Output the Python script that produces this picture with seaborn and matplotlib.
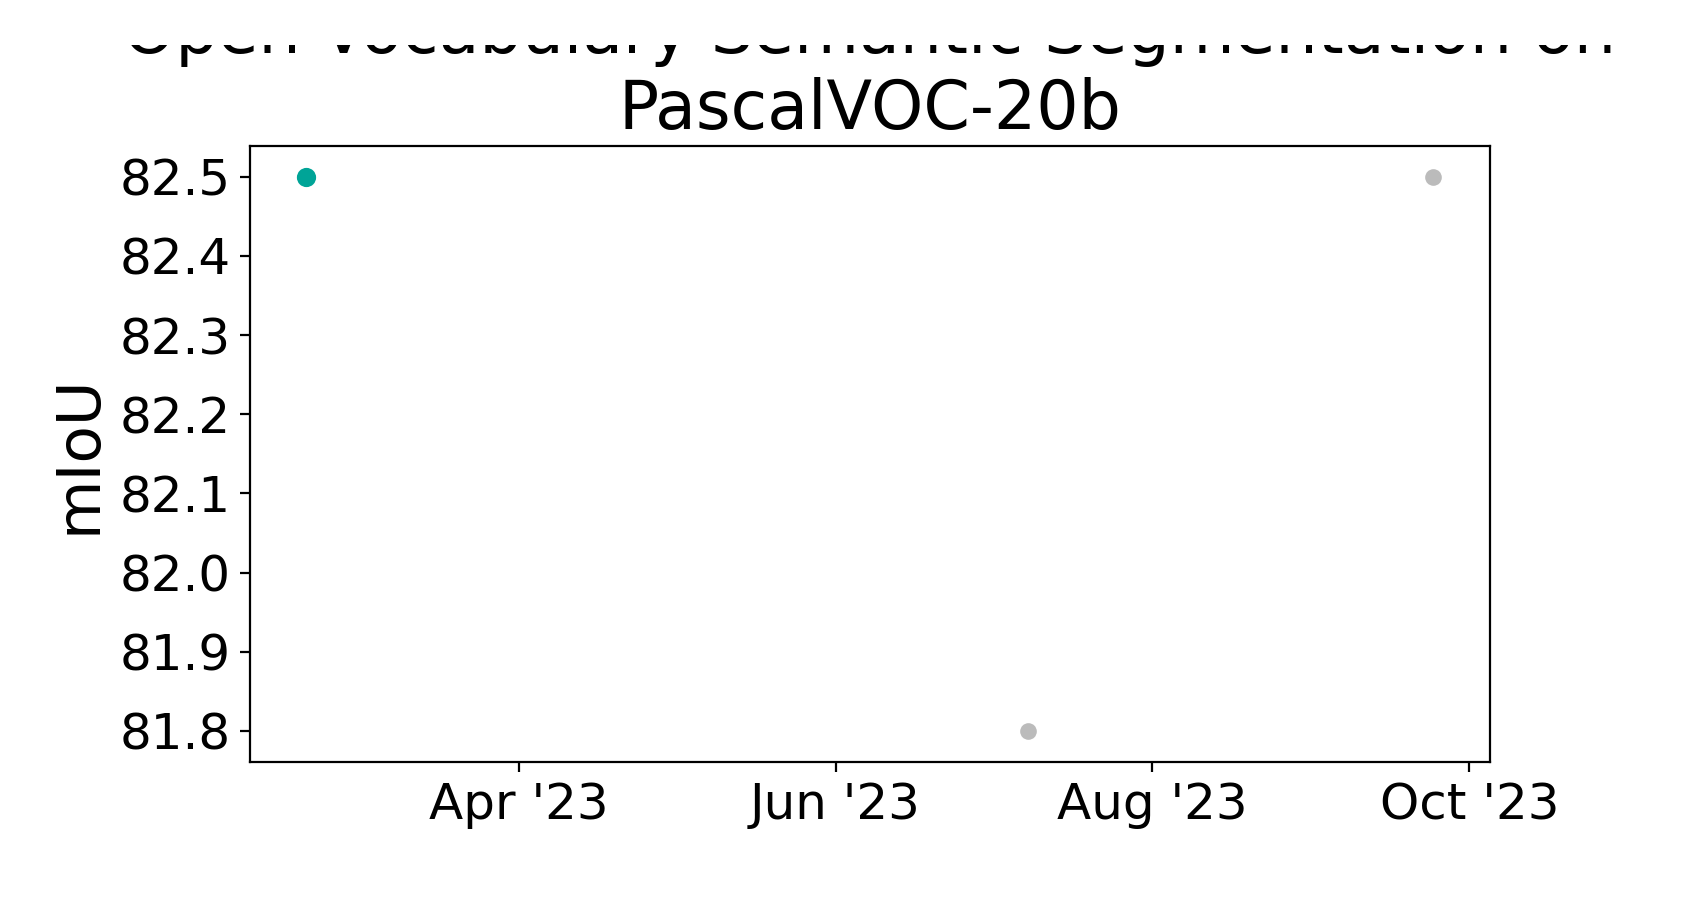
import pandas as pd
import seaborn as sns
import matplotlib.pyplot as plt
import matplotlib.dates as mdates
from matplotlib.ticker import MultipleLocator
from matplotlib.transforms import Bbox, TransformedBbox

dates = ["2023-02-19", "2023-07-08", "2023-09-24"]
miou = [82.5, 81.8, 82.5]
highlight = [True, False, False]

df = pd.DataFrame({"date": pd.to_datetime(dates), "mIoU": miou, "sota": highlight})

fig, ax = plt.subplots(figsize=(8.5, 4.5), dpi=200)
fig.subplots_adjust(left=0.147, right=0.8765, bottom=0.1537, top=0.8378)

sns.scatterplot(data=df[~df["sota"]], x="date", y="mIoU", color="#bbbbbb", s=36, linewidth=0, ax=ax)
sns.scatterplot(data=df[df["sota"]], x="date", y="mIoU", color="#00a497", s=48, linewidth=0, ax=ax)

ax.xaxis.set_major_locator(mdates.MonthLocator(bymonth=[2, 4, 6, 8, 10, 12]))
ax.xaxis.set_major_formatter(mdates.DateFormatter("%b '%y"))
ax.set_xlim(pd.Timestamp("2023-02-08") + pd.Timedelta(hours=6), pd.Timestamp("2023-10-05"))
ax.yaxis.set_major_locator(MultipleLocator(0.1))
ax.set_ylim(81.761, 82.539)
ax.tick_params(labelsize=18)
ax.set_xlabel("")
ax.set_ylabel("mIoU", fontsize=22)
title = ax.set_title("Open-Vocabulary Semantic Segmentation on\nPascalVOC-20b", fontsize=24)
# the top of the first title line is cut off in the original
title.set_clip_box(TransformedBbox(Bbox([[0, 0], [1, 0.95]]), fig.transFigure))
title.set_clip_on(True)

plt.savefig("out.png")
